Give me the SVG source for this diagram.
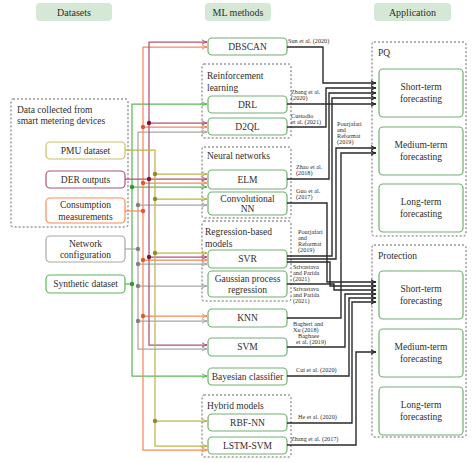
<svg xmlns="http://www.w3.org/2000/svg" width="474" height="463" viewBox="0 0 474 463" font-family="'Liberation Serif', 'Times New Roman', serif">
<defs>
<style>
text{font-family:'Liberation Serif','Times New Roman',serif}
.t{font-size:9.5px;fill:#2e2e2e}
.tc{text-anchor:middle}
.h{font-size:10px;fill:#2e2e2e;text-anchor:middle}
.lb{font-size:6.2px;fill:#2e2e2e}
.hdr{fill:#d5e8d5;stroke:none}
.dash{fill:none;stroke:#666;stroke-width:1;stroke-dasharray:2 2}
.ml{fill:#fff;stroke:#72ad72;stroke-width:1.2}
.c{fill:none;stroke-width:1.25}
.ol{stroke:#bdb54a}.pu{stroke:#b0507a}.or{stroke:#f58a5a}.gr{stroke:#a8a8a8}.gn{stroke:#5cb85c}
.bk{fill:none;stroke:#2a2a2a;stroke-width:1.4}
</style>
<marker id="aol" viewBox="0 0 6 6" refX="5.5" refY="3" markerWidth="6" markerHeight="6" markerUnits="userSpaceOnUse" orient="auto-start-reverse"><path d="M0.5,0.8 Q3,2.6 5.5,3 Q3,3.4 0.5,5.2" fill="none" stroke="#bdb54a" stroke-width="1"/></marker>
<marker id="apu" viewBox="0 0 6 6" refX="5.5" refY="3" markerWidth="6" markerHeight="6" markerUnits="userSpaceOnUse" orient="auto-start-reverse"><path d="M0.5,0.8 Q3,2.6 5.5,3 Q3,3.4 0.5,5.2" fill="none" stroke="#b0507a" stroke-width="1"/></marker>
<marker id="aor" viewBox="0 0 6 6" refX="5.5" refY="3" markerWidth="6" markerHeight="6" markerUnits="userSpaceOnUse" orient="auto-start-reverse"><path d="M0.5,0.8 Q3,2.6 5.5,3 Q3,3.4 0.5,5.2" fill="none" stroke="#f58a5a" stroke-width="1"/></marker>
<marker id="agr" viewBox="0 0 6 6" refX="5.5" refY="3" markerWidth="6" markerHeight="6" markerUnits="userSpaceOnUse" orient="auto-start-reverse"><path d="M0.5,0.8 Q3,2.6 5.5,3 Q3,3.4 0.5,5.2" fill="none" stroke="#a8a8a8" stroke-width="1"/></marker>
<marker id="agn" viewBox="0 0 6 6" refX="5.5" refY="3" markerWidth="6" markerHeight="6" markerUnits="userSpaceOnUse" orient="auto-start-reverse"><path d="M0.5,0.8 Q3,2.6 5.5,3 Q3,3.4 0.5,5.2" fill="none" stroke="#5cb85c" stroke-width="1"/></marker>
<marker id="abk" viewBox="0 0 6 6" refX="5.5" refY="3" markerWidth="6" markerHeight="6" markerUnits="userSpaceOnUse" orient="auto"><path d="M0.5,0.8 Q3,2.6 5.5,3 Q3,3.4 0.5,5.2" fill="none" stroke="#222" stroke-width="1.1"/></marker>
</defs>
<rect width="474" height="463" fill="#fff"/>

<!-- headers -->
<g id="hdr-datasets"><rect class="hdr" x="36" y="3" width="76" height="18" rx="4"/><text class="h" x="74" y="15.5">Datasets</text></g>
<g id="hdr-ml"><rect class="hdr" x="205" y="3" width="66" height="18" rx="4"/><text class="h" x="238" y="15.5">ML methods</text></g>
<g id="hdr-app"><rect class="hdr" x="374" y="3" width="77" height="18" rx="4"/><text class="h" x="412.5" y="15.5">Application</text></g>

<!-- dataset group -->
<g id="grp-smart"><rect class="dash" x="11" y="99" width="117" height="128" rx="2"/><text class="t" x="17" y="113">Data collected from</text><text class="t" x="17" y="124">smart metering devices</text></g>
<g id="n-pmu"><rect x="46" y="142" width="79" height="17" rx="4" fill="#fff" stroke="#c9c16a" stroke-width="1.2"/><text class="t tc" x="85.5" y="153.8">PMU dataset</text></g>
<g id="n-der"><rect x="46" y="171" width="79" height="17" rx="4" fill="#fff" stroke="#b0507a" stroke-width="1.2"/><text class="t tc" x="85.5" y="182.8">DER outputs</text></g>
<g id="n-cons"><rect x="46" y="198" width="79" height="25" rx="4" fill="#fff" stroke="#f58a5a" stroke-width="1.2"/><text class="t tc" x="85.5" y="208">Consumption</text><text class="t tc" x="85.5" y="219.5">measurements</text></g>
<g id="n-net"><rect x="46" y="236" width="79" height="26" rx="4" fill="#fff" stroke="#a8a8a8" stroke-width="1.2"/><text class="t tc" x="85.5" y="246.5">Network</text><text class="t tc" x="85.5" y="258">configuration</text></g>
<g id="n-syn"><rect x="46" y="275" width="79" height="18" rx="4" fill="#fff" stroke="#5cb85c" stroke-width="1.2"/><text class="t tc" x="85.5" y="287.3">Synthetic dataset</text></g>

<!-- ML groups -->
<g id="grp-rl"><rect class="dash" x="202" y="64" width="89" height="74" rx="2"/><text class="t" x="207" y="78.5">Reinforcement</text><text class="t" x="207" y="90.5">learning</text></g>
<g id="grp-nn"><rect class="dash" x="202" y="147" width="89" height="71" rx="2"/><text class="t" x="207" y="159">Neural networks</text></g>
<g id="grp-reg"><rect class="dash" x="202" y="221" width="89" height="80" rx="2"/><text class="t" x="205" y="235">Regression-based</text><text class="t" x="205" y="246.5">models</text></g>
<g id="grp-hyb"><rect class="dash" x="202" y="395" width="89" height="62" rx="2"/><text class="t" x="207" y="409">Hybrid models</text></g>

<g id="n-dbscan"><rect class="ml" x="208" y="38" width="79" height="17" rx="4"/><text class="t tc" x="247.5" y="49.8">DBSCAN</text></g>
<g id="n-drl"><rect class="ml" x="208" y="96" width="79" height="17" rx="4"/><text class="t tc" x="247.5" y="107.8">DRL</text></g>
<g id="n-d2ql"><rect class="ml" x="208" y="118" width="79" height="17" rx="4"/><text class="t tc" x="247.5" y="129.8">D2QL</text></g>
<g id="n-elm"><rect class="ml" x="208" y="170" width="79" height="19" rx="4"/><text class="t tc" x="247.5" y="182.8">ELM</text></g>
<g id="n-cnn"><rect class="ml" x="208" y="192" width="79" height="23" rx="4"/><text class="t tc" x="247.5" y="201.5">Convolutional</text><text class="t tc" x="247.5" y="212">NN</text></g>
<g id="n-svr"><rect class="ml" x="208" y="250" width="79" height="18" rx="4"/><text class="t tc" x="247.5" y="262.3">SVR</text></g>
<g id="n-gpr"><rect class="ml" x="208" y="271" width="79" height="26" rx="4"/><text class="t tc" x="247.5" y="281.5">Gaussian process</text><text class="t tc" x="247.5" y="293">regression</text></g>
<g id="n-knn"><rect class="ml" x="208" y="309" width="79" height="18" rx="4"/><text class="t tc" x="247.5" y="321.3">KNN</text></g>
<g id="n-svm"><rect class="ml" x="208" y="338" width="79" height="18" rx="4"/><text class="t tc" x="247.5" y="350.3">SVM</text></g>
<g id="n-bayes"><rect class="ml" x="208" y="368" width="79" height="17" rx="4"/><text class="t tc" x="247.5" y="379.8">Bayesian classifier</text></g>
<g id="n-rbf"><rect class="ml" x="208" y="414" width="79" height="17" rx="4"/><text class="t tc" x="247.5" y="425.8">RBF-NN</text></g>
<g id="n-lstm"><rect class="ml" x="208" y="437" width="79" height="17" rx="4"/><text class="t tc" x="247.5" y="448.8">LSTM-SVM</text></g>

<!-- application -->
<g id="grp-pq"><rect class="dash" x="372" y="42" width="94" height="194" rx="2"/><text class="t" x="378" y="56">PQ</text></g>
<g id="grp-prot"><rect class="dash" x="372" y="245" width="94" height="192" rx="2"/><text class="t" x="378" y="258.5">Protection</text></g>
<g id="n-pq-st"><rect class="ml" x="379" y="69" width="84" height="48" rx="4"/><text class="t tc" x="421" y="90">Short-term</text><text class="t tc" x="421" y="102">forecasting</text></g>
<g id="n-pq-mt"><rect class="ml" x="379" y="127" width="84" height="48" rx="4"/><text class="t tc" x="421" y="148">Medium-term</text><text class="t tc" x="421" y="160">forecasting</text></g>
<g id="n-pq-lt"><rect class="ml" x="379" y="184" width="84" height="48" rx="4"/><text class="t tc" x="421" y="205">Long-term</text><text class="t tc" x="421" y="217">forecasting</text></g>
<g id="n-pr-st"><rect class="ml" x="379" y="271" width="84" height="48" rx="4"/><text class="t tc" x="421" y="292">Short-term</text><text class="t tc" x="421" y="304">forecasting</text></g>
<g id="n-pr-mt"><rect class="ml" x="379" y="329" width="84" height="48" rx="4"/><text class="t tc" x="421" y="350">Medium-term</text><text class="t tc" x="421" y="362">forecasting</text></g>
<g id="n-pr-lt"><rect class="ml" x="379" y="387" width="84" height="48" rx="4"/><text class="t tc" x="421" y="408">Long-term</text><text class="t tc" x="421" y="420">forecasting</text></g>

<!-- connectors -->
<g id="connectors">
<g id="c-green">
<path class="c gn" d="M207,104 H132 V376 H207" marker-start="url(#agn)" marker-end="url(#agn)"/>
<path class="c gn" d="M132,187 H207" marker-end="url(#agn)"/>
<path class="c gn" d="M125,284 H132"/>
<g fill="#2a9a2a"><circle cx="132" cy="187" r="2.2"/><circle cx="132" cy="284" r="2.2"/></g>
</g>
<g id="c-gray">
<path class="c gr" d="M207,132 H138 V349 H207" marker-start="url(#agr)" marker-end="url(#agr)"/>
<path class="c gr" d="M138,205 H207" marker-end="url(#agr)"/>
<path class="c gr" d="M125,249 H138"/>
<path class="c gr" d="M138,264 H207" marker-end="url(#agr)"/>
<path class="c gr" d="M138,286 H207" marker-end="url(#agr)"/>
<path class="c gr" d="M138,321 H207" marker-end="url(#agr)"/>
<g fill="#808080"><circle cx="138" cy="205" r="2.2"/><circle cx="138" cy="249" r="2.2"/><circle cx="138" cy="264" r="2.2"/><circle cx="138" cy="286" r="2.2"/><circle cx="138" cy="321" r="2.2"/></g>
</g>
<g id="c-orange">
<path class="c or" d="M207,47 H143 V450 H207" marker-start="url(#aor)" marker-end="url(#aor)"/>
<path class="c or" d="M143,127 H207" marker-end="url(#aor)"/>
<path class="c or" d="M143,183 H207" marker-end="url(#aor)"/>
<path class="c or" d="M125,211 H143"/>
<path class="c or" d="M143,260 H207" marker-end="url(#aor)"/>
<path class="c or" d="M143,316 H207" marker-end="url(#aor)"/>
<g fill="#e8552a"><circle cx="143" cy="127" r="2.2"/><circle cx="143" cy="183" r="2.2"/><circle cx="143" cy="211" r="2.2"/><circle cx="143" cy="260" r="2.2"/><circle cx="143" cy="316" r="2.2"/></g>
</g>
<g id="c-purple">
<path class="c pu" d="M207,42 H149 V345 H207" marker-start="url(#apu)" marker-end="url(#apu)"/>
<path class="c pu" d="M149,123 H207" marker-end="url(#apu)"/>
<path class="c pu" d="M125,179 H207" marker-end="url(#apu)"/>
<path class="c pu" d="M149,257 H207" marker-end="url(#apu)"/>
<g fill="#7b1538"><circle cx="149" cy="123" r="2.2"/><circle cx="149" cy="179" r="2.2"/><circle cx="149" cy="257" r="2.2"/></g>
</g>
<g id="c-olive">
<path class="c ol" d="M125,150 H155 V446 H207" marker-end="url(#aol)"/>
<path class="c ol" d="M155,174 H207" marker-end="url(#aol)"/>
<path class="c ol" d="M155,199 H207" marker-end="url(#aol)"/>
<path class="c ol" d="M155,253 H207" marker-end="url(#aol)"/>
<path class="c ol" d="M155,421 H207" marker-end="url(#aol)"/>
<g fill="#8f8c1e"><circle cx="155" cy="174" r="2.2"/><circle cx="155" cy="199" r="2.2"/><circle cx="155" cy="253" r="2.2"/><circle cx="155" cy="421" r="2.2"/></g>
</g>
<g id="c-black">
<path class="bk" d="M287,47 H323 V83 H376" marker-end="url(#abk)"/>
<path class="bk" d="M287,127 H326 V88 H376" marker-end="url(#abk)"/>
<path class="bk" d="M287,179 H329 V93 H376" marker-end="url(#abk)"/>
<path class="bk" d="M287,256 H332 V98 H376" marker-end="url(#abk)"/>
<path class="bk" d="M287,104 H376" marker-end="url(#abk)"/>
<path class="bk" d="M287,259 H336 V148 H376" marker-end="url(#abk)"/>
<path class="bk" d="M287,318 H341 V153 H376" marker-end="url(#abk)"/>
<path class="bk" d="M287,203 H327 V282 H376" marker-end="url(#abk)"/>
<path class="bk" d="M287,262 H330 V286 H376" marker-end="url(#abk)"/>
<path class="bk" d="M287,284 H334 V290 H376" marker-end="url(#abk)"/>
<path class="bk" d="M287,347 H345 V294 H376" marker-end="url(#abk)"/>
<path class="bk" d="M287,376 H349 V298 H376" marker-end="url(#abk)"/>
<path class="bk" d="M287,423 H352 V302 H376" marker-end="url(#abk)"/>
<path class="bk" d="M287,445 H356 V352 H376" marker-end="url(#abk)"/>
</g>
<g id="labels">
<text class="lb" x="288" y="43">Sun et al. (2020)</text>
<text class="lb" x="291" y="94">Zhang et al.</text><text class="lb" x="291" y="100">(2020)</text>
<text class="lb" x="291" y="118">Custodio</text><text class="lb" x="291" y="124">et al. (2021)</text>
<text class="lb" x="337" y="126">Pourjafari</text><text class="lb" x="337" y="132">and</text><text class="lb" x="337" y="138">Reformat</text><text class="lb" x="337" y="144">(2019)</text>
<text class="lb" x="296" y="169">Zhao et al.</text><text class="lb" x="296" y="175">(2018)</text>
<text class="lb" x="296" y="193">Guo et al.</text><text class="lb" x="296" y="199">(2017)</text>
<text class="lb" x="298" y="234">Pourjafari</text><text class="lb" x="298" y="240">and</text><text class="lb" x="298" y="246">Reformat</text><text class="lb" x="298" y="252">(2019)</text>
<text class="lb" x="293" y="269">Srivastava</text><text class="lb" x="293" y="275">and Parida</text><text class="lb" x="293" y="281">(2021)</text>
<text class="lb" x="293" y="291">Srivastava</text><text class="lb" x="293" y="297">and Parida</text><text class="lb" x="293" y="303">(2021)</text>
<text class="lb" x="293" y="326">Bagheri and</text><text class="lb" x="293" y="332">Xu (2018)</text>
<text class="lb" x="298" y="338">Baghaee</text><text class="lb" x="296" y="344">et al. (2019)</text>
<text class="lb" x="296" y="372">Cui et al. (2020)</text>
<text class="lb" x="298" y="419">He et al. (2020)</text>
<text class="lb" x="291" y="441">Zhang et al. (2017)</text>
</g>
</g>
</svg>
